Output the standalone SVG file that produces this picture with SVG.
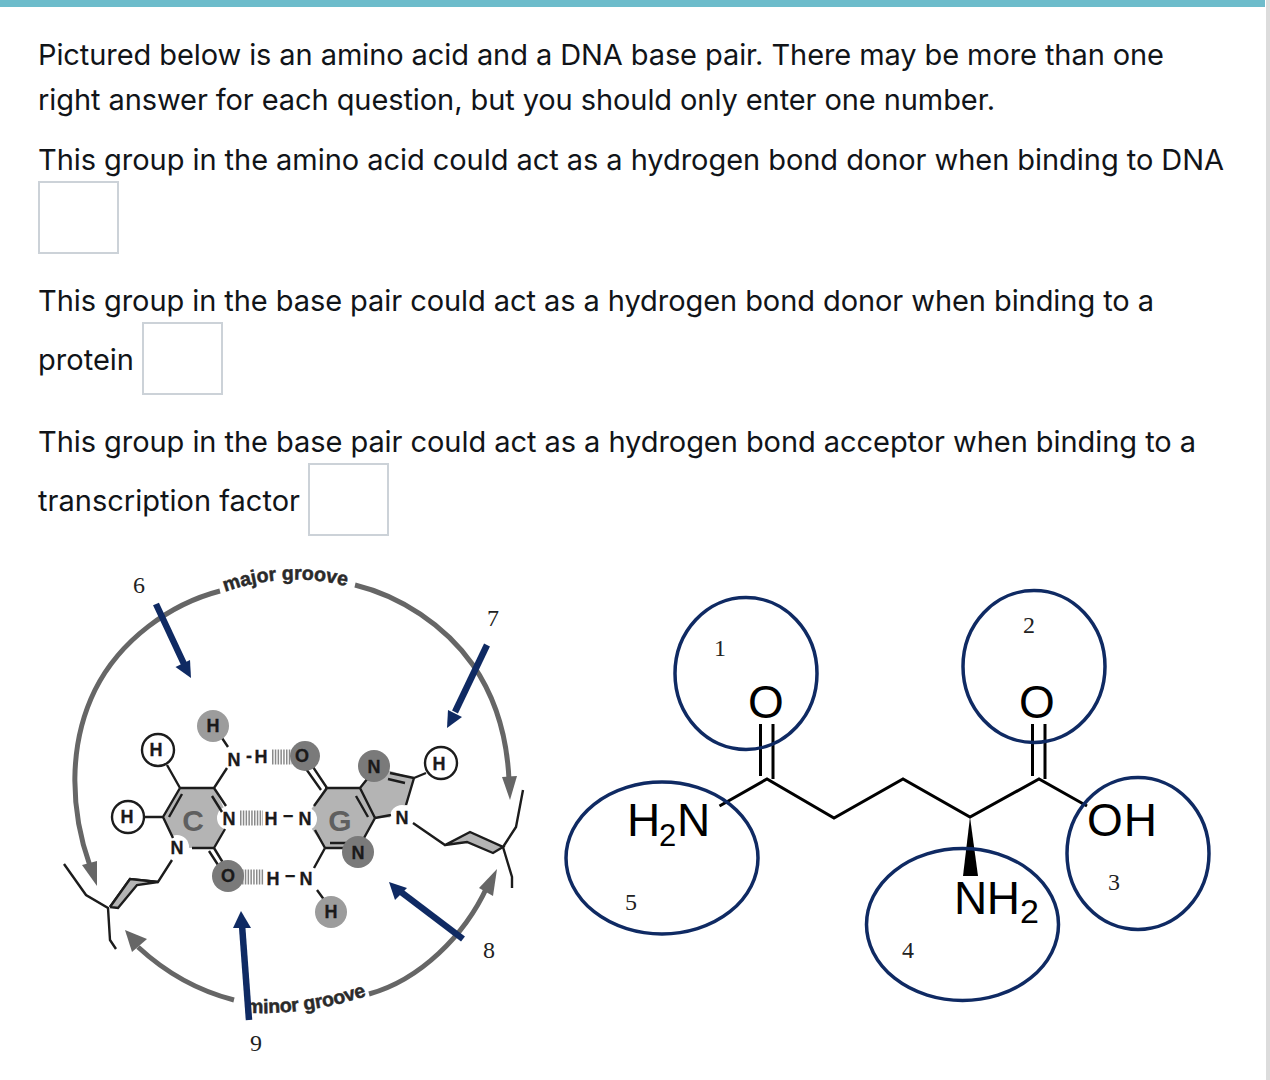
<svg xmlns="http://www.w3.org/2000/svg" width="1270" height="1080" viewBox="0 0 1270 1080">
<style>
.t{font-family:Inter,"Liberation Sans",sans-serif;font-size:29px;fill:#111418}
.box{fill:#fff;stroke:#ccd2d8;stroke-width:2}
.num{font-family:"Liberation Serif",serif;font-size:24px;fill:#222;text-anchor:middle}
.ring{fill:none;stroke:#0f2a63;stroke-width:3.5}
.bond{fill:none;stroke:#000;stroke-width:3}
.chem{font-family:"Liberation Sans",sans-serif;fill:#000;font-size:46px}
.sub{font-family:"Liberation Sans",sans-serif;fill:#000;font-size:31px}
.b{fill:none;stroke:#1c1c1c;stroke-width:2.4}
.at{font-family:"Liberation Sans",sans-serif;font-weight:bold;font-size:18px;fill:#1a1a1a;stroke:#1a1a1a;stroke-width:.3;text-anchor:middle}
.wh{fill:#fff;stroke:#1c1c1c;stroke-width:2.4}
.gh{fill:#9c9c9c}
.gd{fill:#7a7a7a}
.halo{fill:#fff}
.groove{font-family:"Liberation Sans",sans-serif;font-weight:bold;font-size:19.500px;fill:#2a2a2a;stroke:#2a2a2a;stroke-width:.5}
.arc{fill:none;stroke:#666;stroke-width:5}
.head{fill:#666}
.blue{stroke:#0f2a63;stroke-width:6.500;fill:none}
.bh{fill:#0f2a63}
.hb{stroke:#8a8a8a;stroke-width:15;stroke-dasharray:1.500 1.300;fill:none}
.rf{fill:#b4b4b4}
.big{font-family:"Liberation Sans",sans-serif;font-weight:bold;font-size:30px;fill:#5f5f5f;text-anchor:middle}
</style>
<defs>
<path id="major-path" d="M225 592Q286 570 350 587"/>
<path id="minor-path" d="M246 1013Q310 1015 366 996"/>
</defs>
<rect width="1270" height="1080" fill="#fff"/>
<rect x="1266" width="4" height="1080" fill="#dcdcdc"/>
<rect width="1265" height="7" fill="#6dbccb"/>
<g id="question">
<text class="t" x="38" y="65" textLength="1126">Pictured below is an amino acid and a DNA base pair. There may be more than one</text>
<text class="t" x="38" y="110" textLength="957">right answer for each question, but you should only enter one number.</text>
<text class="t" x="38" y="170" textLength="1186">This group in the amino acid could act as a hydrogen bond donor when binding to DNA</text>
<rect class="box" x="39" y="182" width="79" height="71"/>
<text class="t" x="38" y="311" textLength="1116">This group in the base pair could act as a hydrogen bond donor when binding to a</text>
<text class="t" x="38" y="370" textLength="96">protein</text>
<rect class="box" x="143" y="323" width="79" height="71"/>
<text class="t" x="38" y="452" textLength="1158">This group in the base pair could act as a hydrogen bond acceptor when binding to a</text>
<text class="t" x="38" y="511" textLength="262">transcription factor</text>
<rect class="box" x="309" y="464" width="79" height="71"/>
</g>
<g id="ring-fills">
<polygon class="rf" points="180,788 214,788 229,818 214,848 192,848 177,847 162,817"/>
<polygon class="rf" points="325,788 360,788 374,766 414,778 402,817 375,818 358,850 325,848 305,819"/>
<circle class="halo" cx="229" cy="818" r="12"/>
<circle class="halo" cx="177" cy="847" r="12"/>
<circle class="halo" cx="305" cy="819" r="12"/>
<circle class="halo" cx="402" cy="817" r="12"/>
</g>
<g id="connectors">
<path class="arc" d="M220 591C170 604 120 640 95 690C68 745 70 810 90 866"/>
<path class="head" d="M82 865L97 861L97 886Z"/>
<path class="arc" d="M355 585C400 596 445 625 473 665C495 697 507 735 509 780"/>
<path class="head" d="M502 777L517 776L510 800Z"/>
<path class="arc" d="M234 1000C195 990 165 972 138 947"/>
<path class="head" d="M125 930L147 939L132 952Z"/>
<path class="arc" d="M369 994C420 980 465 935 487 887"/>
<path class="head" d="M497 869L493 896L479 888Z"/>
<path class="hb" d="M272 757H292"/>
<path class="hb" d="M240 818H263"/>
<path class="hb" d="M242 877H264"/>
<path class="b" d="M180 788H214M180 788L163 817M182 794L169 817M163 817L173 838M192 848H214M214 848L225 829M214 788L226 806M212 796L222 812M214 848L225 866M209 851L220 868M180 788L167 765M163 817H145M214 788L227 768M228 747L222 738"/>
<path class="b" d="M172 860L158 882L130 879L110 907M64 864L86 895L108 908L110 940L116 949"/>
<path class="rf" d="M110 907L130 879L158 882L137 885L118 908Z"/>
<path class="b" d="M110 907L130 879L158 882M110 907L118 908L137 885L158 882"/>
<path class="b" d="M325 788H360M360 788L375 818M356 796L368 817M375 818L364 838M360 788L368 778M325 848H352M330 843H346M325 848L315 830M327 788L314 806M327 788L309 761M321 790L304 766M325 848L314 868M317 890L325 901M375 818L391 815M390 773L414 778M388 779L405 783M414 778L426 773M414 778L406 805"/>
<path class="rf" d="M445 845L470 832L503 847L493 853L467 842Z"/>
<path class="b" d="M413 823L445 845L470 832L503 847L493 853L467 842L445 845M523 790L516 827L503 847L512 877V888"/>
<path class="blue" d="M156 604L184 664"/>
<path class="bh" d="M191 678L175.500 667L190 660Z"/>
<path class="blue" d="M487 645L455 712"/>
<path class="bh" d="M447 728L448 710L462 717Z"/>
<path class="blue" d="M463 939L401 892"/>
<path class="bh" d="M389 882L407 888L395 900Z"/>
</g>
<g id="major-groove"><text class="groove"><textPath href="#major-path">major groove</textPath></text></g>
<g id="minor-groove"><text class="groove" letter-spacing="-.2"><textPath href="#minor-path">minor groove</textPath></text></g>
<g id="arrow-9-front">
<path class="blue" d="M249 1020L242 925"/>
<path class="bh" d="M241 911L233 928L251 928Z"/>
</g>
<g id="base-C">
<text class="big" x="193" y="831">C</text>
<circle class="gh" cx="213" cy="726" r="16"/><text class="at" x="213" y="732">H</text>
<circle class="wh" cx="158" cy="750" r="16"/><text class="at" x="156" y="756">H</text>
<circle class="wh" cx="128" cy="817" r="16"/><text class="at" x="127" y="823">H</text>
<text class="at" x="234" y="766">N</text>
<text class="at" x="249" y="762">-</text>
<text class="at" x="261" y="763">H</text>
<text class="at" x="229" y="825">N</text>
<text class="at" x="177" y="854">N</text>
<circle class="gd" cx="228" cy="876" r="16"/><text class="at" x="228" y="882">O</text>
</g>
<g id="base-G">
<text class="big" x="340" y="831">G</text>
<circle class="gd" cx="305" cy="756" r="15"/><text class="at" x="302" y="762">O</text>
<circle class="gd" cx="374" cy="766" r="16"/><text class="at" x="374" y="773">N</text>
<circle class="wh" cx="441" cy="763" r="16"/><text class="at" x="439" y="770">H</text>
<text class="at" x="402" y="824">N</text>
<circle class="gd" cx="358" cy="852" r="16"/><text class="at" x="358" y="859">N</text>
<text class="at" x="271" y="825">H</text>
<text class="at" x="288" y="822">−</text>
<text class="at" x="305" y="825">N</text>
<text class="at" x="273" y="885">H</text>
<text class="at" x="290" y="882">−</text>
<text class="at" x="306" y="885">N</text>
<circle class="gh" cx="331" cy="912" r="16"/><text class="at" x="331" y="918">H</text>
</g>
<g id="dna-labels">
<text class="num" x="139" y="593">6</text>
<text class="num" x="493" y="626">7</text>
<text class="num" x="489" y="958">8</text>
<text class="num" x="256" y="1051">9</text>
</g>
<g id="amino-acid">
<path class="bond" d="M719.500 806L767 779L834 818L903 779L970 817L1039 779L1087 806M760.500 724V776M773 724V779M1032.500 724V776M1045 724V779"/>
<polygon points="970,817 963,876 978,876" fill="#000"/>
<text class="chem" x="748" y="718">O</text>
<text class="chem" x="1019" y="718">O</text>
<text class="chem" x="627" y="836">H</text>
<text class="sub" x="659" y="846">2</text>
<text class="chem" x="677" y="836">N</text>
<text class="chem" x="1087" y="836" textLength="70">OH</text>
<text class="chem" x="954" y="914" textLength="66">NH</text>
<text class="sub" x="1020" y="923" font-size="34" style="font-size:34px">2</text>
</g>
<g id="group-1"><ellipse class="ring" cx="746" cy="673.500" rx="71" ry="76"/><text class="num" x="720" y="656">1</text></g>
<g id="group-2"><ellipse class="ring" cx="1034" cy="666.500" rx="71" ry="76"/><text class="num" x="1029" y="633">2</text></g>
<g id="group-3"><ellipse class="ring" cx="1138" cy="853.500" rx="71" ry="76"/><text class="num" x="1114" y="890">3</text></g>
<g id="group-4"><ellipse class="ring" cx="962.500" cy="924.500" rx="96" ry="76"/><text class="num" x="908" y="958">4</text></g>
<g id="group-5"><ellipse class="ring" cx="662" cy="858" rx="96" ry="76"/><text class="num" x="631" y="910">5</text></g>
</svg>
